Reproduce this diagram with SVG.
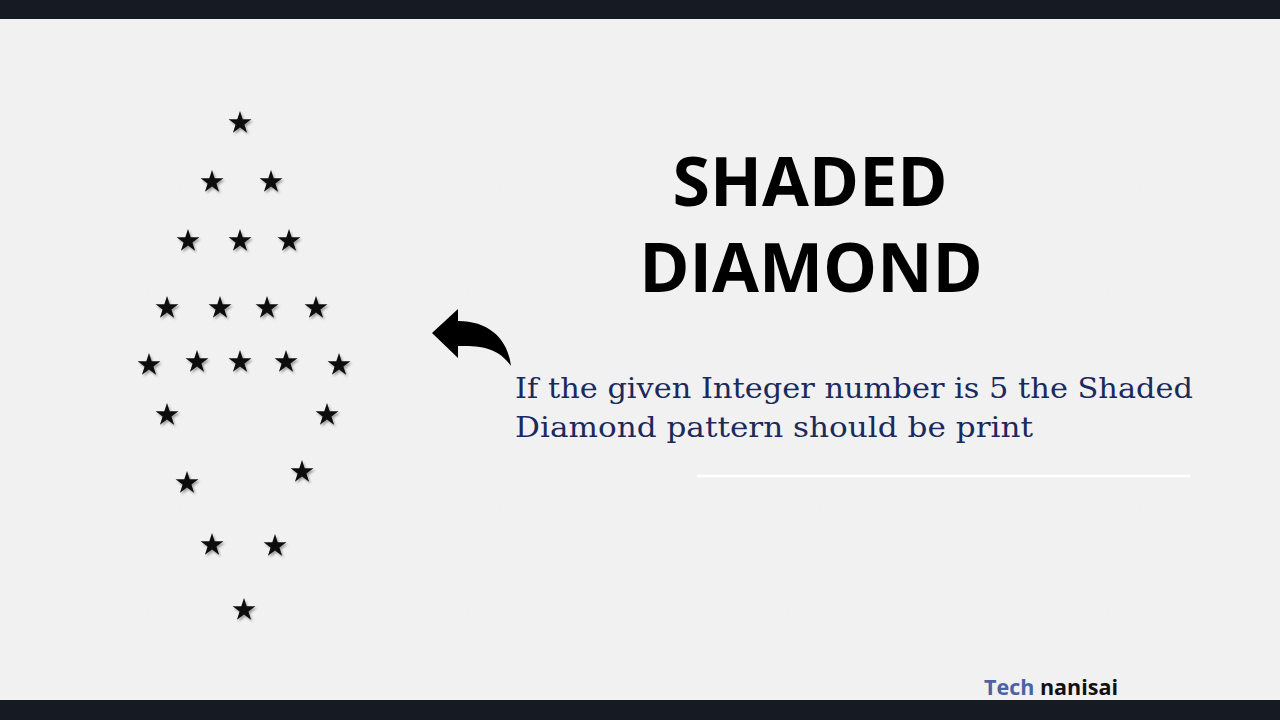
<svg xmlns="http://www.w3.org/2000/svg" width="1280" height="720" viewBox="0 0 1280 720">
  <style>
    .title { font-family: "Open Sans", "Liberation Sans", sans-serif; font-weight: 700; font-size: 68px; fill: #000; }
    .body { font-family: "DejaVu Serif", "Liberation Serif", serif; font-size: 27px; fill: #1b2a5c; }
    .brand { font-family: "Open Sans", "Liberation Sans", sans-serif; font-weight: 700; font-size: 21.5px; }
    .star { fill: #0a0a0a; filter: url(#sh); }
  </style>
  <defs>
    <filter id="sh" x="-50%" y="-50%" width="200%" height="200%">
      <feDropShadow dx="1.5" dy="2" stdDeviation="1.2" flood-color="#000" flood-opacity="0.35"/>
    </filter>
    <filter id="noise" x="0" y="0" width="100%" height="100%">
      <feTurbulence type="fractalNoise" baseFrequency="0.8" numOctaves="2" seed="3" result="n"/>
      <feColorMatrix type="matrix" values="0 0 0 0 0.5  0 0 0 0 0.5  0 0 0 0 0.5  0 0 0 0.07 0"/>
    </filter>
    <path id="st" d="M0,-12 L2.7,-3.72 L11.41,-3.71 L4.37,1.42 L7.05,9.71 L0,4.6 L-7.05,9.71 L-4.37,1.42 L-11.41,-3.71 L-2.7,-3.72 Z"/>
  </defs>

  <rect x="0" y="0" width="1280" height="720" fill="#f3f3f3"/>
  <rect x="0" y="19" width="1280" height="681" filter="url(#noise)"/>
  <rect x="0" y="0" width="1280" height="19" fill="#151a23"/>
  <rect x="0" y="700" width="1280" height="20" fill="#151a23"/>

  <g id="stars">
    <use href="#st" class="star" x="240" y="123"/>
    <use href="#st" class="star" x="212" y="182"/>
    <use href="#st" class="star" x="271" y="182"/>
    <use href="#st" class="star" x="188" y="241"/>
    <use href="#st" class="star" x="240" y="241"/>
    <use href="#st" class="star" x="289" y="241"/>
    <use href="#st" class="star" x="167" y="308"/>
    <use href="#st" class="star" x="220" y="308"/>
    <use href="#st" class="star" x="267" y="308"/>
    <use href="#st" class="star" x="316" y="308"/>
    <use href="#st" class="star" x="149" y="365"/>
    <use href="#st" class="star" x="197" y="362"/>
    <use href="#st" class="star" x="240" y="362"/>
    <use href="#st" class="star" x="286" y="362"/>
    <use href="#st" class="star" x="339" y="365"/>
    <use href="#st" class="star" x="167" y="415"/>
    <use href="#st" class="star" x="327" y="415"/>
    <use href="#st" class="star" x="187" y="483"/>
    <use href="#st" class="star" x="302" y="472"/>
    <use href="#st" class="star" x="212" y="545"/>
    <use href="#st" class="star" x="275" y="546"/>
    <use href="#st" class="star" x="244" y="610"/>
  </g>

  <g id="arrow">
    <path d="M432,333 L458,309 L458,321 C490,321 508,340 511,366 C500,350 485,345 458,346 L458,358 Z" fill="#000"/>
  </g>

  <g id="title">
    <text class="title" x="810" y="206" text-anchor="middle">SHADED</text>
    <text class="title" x="811" y="292" text-anchor="middle">DIAMOND</text>
  </g>

  <g id="description">
    <text class="body" x="515" y="398" textLength="678" lengthAdjust="spacingAndGlyphs">If the given Integer number is 5 the Shaded</text>
    <text class="body" x="515" y="437" textLength="518" lengthAdjust="spacingAndGlyphs">Diamond pattern should be print</text>
    <line x1="697" y1="476" x2="1190" y2="476" stroke="#ffffff" stroke-width="2.5"/>
  </g>

  <g id="brand">
    <text class="brand" x="984" y="695"><tspan fill="#4a63a3">Tech</tspan><tspan fill="#111"> nanisai</tspan></text>
  </g>
</svg>
